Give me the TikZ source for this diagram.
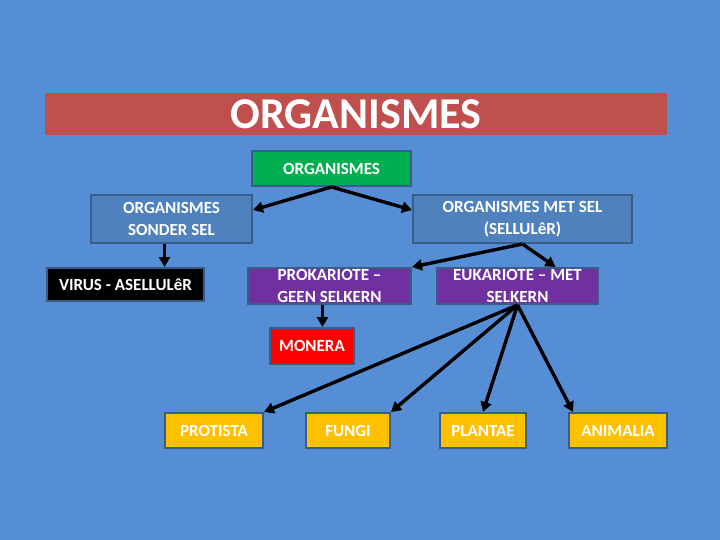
\documentclass[tikz,border=0pt]{standalone}
\usepackage{fontspec}
\setmainfont{Carlito}
\usetikzlibrary{arrows.meta}
\definecolor{bgblue}{RGB}{85,142,213}
\definecolor{boxblue}{RGB}{79,129,189}
\definecolor{edgeblue}{RGB}{56,93,138}
\definecolor{titlered}{RGB}{192,80,77}
\definecolor{ggreen}{RGB}{0,176,80}
\definecolor{gpurple}{RGB}{112,48,160}
\definecolor{ggold}{RGB}{255,192,0}
\tikzset{
  box/.style={draw=edgeblue, line width=2pt, inner sep=0pt, text=white, align=center,
    font=\fontsize{17}{22}\selectfont\bfseries},
  arr/.style={line width=3.4pt, -{Triangle[length=10pt,width=11pt]}, black},
}
\begin{document}
\begin{tikzpicture}[x=1pt,y=-1pt]
\fill[bgblue] (0,0) rectangle (720,540);
\useasboundingbox (0,0) rectangle (720,540);
\node[fill=titlered, minimum width=622pt, minimum height=42pt, inner sep=0pt, text=white,
  font=\fontsize{44}{46}\selectfont\bfseries] (title) at (356,114) {ORGANISMES};
\node[box, fill=ggreen, minimum width=159pt, minimum height=35pt] (org) at (331.5,168.5) {ORGANISMES};
\node[box, fill=boxblue, minimum width=161pt, minimum height=48pt] (sonder) at (171.5,219) {ORGANISMES\\SONDER SEL};
\node[box, fill=boxblue, minimum width=219pt, minimum height=48pt] (met) at (522.5,219) {ORGANISMES MET SEL\\(SELLULêR)};
\node[box, fill=black, minimum width=157pt, minimum height=33pt] (virus) at (125.5,284.5) {VIRUS - ASELLULêR};
\node[box, fill=gpurple, minimum width=163pt, minimum height=36pt] (prok) at (329.5,286) {PROKARIOTE –\\GEEN SELKERN};
\node[box, fill=gpurple, minimum width=161pt, minimum height=36pt] (euk) at (517.5,286) {EUKARIOTE – MET\\SELKERN};
\node[box, fill=red, minimum width=84pt, minimum height=36pt] (monera) at (312,346) {MONERA};
\node[box, fill=ggold, minimum width=98pt, minimum height=35pt] (protista) at (214,430.5) {PROTISTA};
\node[box, fill=ggold, minimum width=84pt, minimum height=35pt] (fungi) at (348,430.5) {FUNGI};
\node[box, fill=ggold, minimum width=86pt, minimum height=35pt] (plantae) at (483,430.5) {PLANTAE};
\node[box, fill=ggold, minimum width=98pt, minimum height=35pt] (animalia) at (618,430.5) {ANIMALIA};
\draw[arr] (org.south) -- ([yshift=9pt]sonder.east);
\draw[arr] (org.south) -- ([yshift=9pt]met.west);
\draw[arr] ([xshift=-7pt]sonder.south) -- ([xshift=-7pt]sonder.south |- virus.north);
\draw[arr] (met.south) -- (prok.north east);
\draw[arr] (met.south) -- ([xshift=38pt]euk.north);
\draw[arr] ([xshift=-7pt]prok.south) -- ([xshift=-7pt]prok.south |- monera.north);
\draw[arr] (euk.south) -- (protista.north east);
\draw[arr] (euk.south) -- (fungi.north east);
\draw[arr] (euk.south) -- (plantae.north);
\draw[arr] (euk.south) -- ([xshift=5pt]animalia.north west);
\end{tikzpicture}
\end{document}
